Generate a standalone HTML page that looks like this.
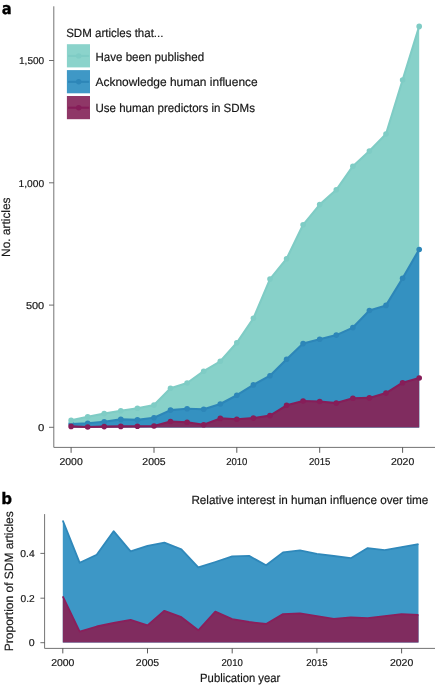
<!DOCTYPE html>
<html lang="en"><head><meta charset="utf-8"><title>SDM articles</title>
<style>
html,body{margin:0;padding:0;background:#fff;}
svg{display:block;}
text{font-family:"Liberation Sans",sans-serif;fill:#161616;stroke:#161616;stroke-width:0.18px;text-rendering:geometricPrecision;}
.tk{font-size:10px;}
.lg{font-size:12px;}
.pl{font-family:"DejaVu Sans","Liberation Sans",sans-serif;font-size:16.5px;font-weight:bold;fill:#000;stroke:#000;stroke-width:0.3px;}
</style></head><body>
<svg width="435" height="685" viewBox="0 0 435 685">
<rect width="435" height="685" fill="#fff"/>

<polygon points="71.1,427.6 71.1,420.4 87.7,416.8 104.2,413.6 120.8,410.8 137.4,408.2 154.0,405.1 170.5,388.3 187.1,383.0 203.7,371.2 220.3,361.3 236.8,342.8 253.4,318.3 270.0,279.1 286.6,258.7 303.1,224.8 319.7,204.6 336.3,189.8 352.9,166.2 369.4,151.1 386.0,134.0 402.6,80.0 419.2,26.4 419.2,427.6" fill="#87d1c9"/>
<polyline points="71.1,420.4 87.7,416.8 104.2,413.6 120.8,410.8 137.4,408.2 154.0,405.1 170.5,388.3 187.1,383.0 203.7,371.2 220.3,361.3 236.8,342.8 253.4,318.3 270.0,279.1 286.6,258.7 303.1,224.8 319.7,204.6 336.3,189.8 352.9,166.2 369.4,151.1 386.0,134.0 402.6,80.0 419.2,26.4" fill="none" stroke="#7fccc5" stroke-width="2.1" stroke-linejoin="round" stroke-linecap="butt"/>
<polygon points="71.1,427.6 71.1,424.1 87.7,423.3 104.2,421.8 120.8,419.4 137.4,419.9 154.0,417.8 170.5,410.1 187.1,408.8 203.7,409.3 220.3,404.0 236.8,395.2 253.4,384.9 270.0,375.7 286.6,359.3 303.1,343.6 319.7,339.3 336.3,335.1 352.9,327.6 369.4,310.5 386.0,305.4 402.6,278.2 419.2,249.5 419.2,427.6" fill="#3491c1"/>
<polyline points="71.1,424.1 87.7,423.3 104.2,421.8 120.8,419.4 137.4,419.9 154.0,417.8 170.5,410.1 187.1,408.8 203.7,409.3 220.3,404.0 236.8,395.2 253.4,384.9 270.0,375.7 286.6,359.3 303.1,343.6 319.7,339.3 336.3,335.1 352.9,327.6 369.4,310.5 386.0,305.4 402.6,278.2 419.2,249.5" fill="none" stroke="#2d86b8" stroke-width="2.1" stroke-linejoin="round" stroke-linecap="butt"/>
<polygon points="71.1,427.6 71.1,426.4 87.7,427.0 104.2,426.6 120.8,426.4 137.4,426.2 154.0,426.0 170.5,421.5 187.1,422.2 203.7,424.8 220.3,418.4 236.8,419.2 253.4,418.1 270.0,415.6 286.6,405.3 303.1,401.0 319.7,401.5 336.3,403.1 352.9,398.3 369.4,397.9 386.0,393.1 402.6,382.7 419.2,378.0 419.2,427.6" fill="#802c5f"/>
<polyline points="71.1,426.4 87.7,427.0 104.2,426.6 120.8,426.4 137.4,426.2 154.0,426.0 170.5,421.5 187.1,422.2 203.7,424.8 220.3,418.4 236.8,419.2 253.4,418.1 270.0,415.6 286.6,405.3 303.1,401.0 319.7,401.5 336.3,403.1 352.9,398.3 369.4,397.9 386.0,393.1 402.6,382.7 419.2,378.0" fill="none" stroke="#861d59" stroke-width="2.1" stroke-linejoin="round" stroke-linecap="butt"/>
<circle cx="71.1" cy="424.1" r="2.8" fill="#2d86b8"/><circle cx="87.7" cy="423.3" r="2.8" fill="#2d86b8"/><circle cx="104.2" cy="421.8" r="2.8" fill="#2d86b8"/><circle cx="120.8" cy="419.4" r="2.8" fill="#2d86b8"/><circle cx="137.4" cy="419.9" r="2.8" fill="#2d86b8"/><circle cx="154.0" cy="417.8" r="2.8" fill="#2d86b8"/><circle cx="170.5" cy="410.1" r="2.8" fill="#2d86b8"/><circle cx="187.1" cy="408.8" r="2.8" fill="#2d86b8"/><circle cx="203.7" cy="409.3" r="2.8" fill="#2d86b8"/><circle cx="220.3" cy="404.0" r="2.8" fill="#2d86b8"/><circle cx="236.8" cy="395.2" r="2.8" fill="#2d86b8"/><circle cx="253.4" cy="384.9" r="2.8" fill="#2d86b8"/><circle cx="270.0" cy="375.7" r="2.8" fill="#2d86b8"/><circle cx="286.6" cy="359.3" r="2.8" fill="#2d86b8"/><circle cx="303.1" cy="343.6" r="2.8" fill="#2d86b8"/><circle cx="319.7" cy="339.3" r="2.8" fill="#2d86b8"/><circle cx="336.3" cy="335.1" r="2.8" fill="#2d86b8"/><circle cx="352.9" cy="327.6" r="2.8" fill="#2d86b8"/><circle cx="369.4" cy="310.5" r="2.8" fill="#2d86b8"/><circle cx="386.0" cy="305.4" r="2.8" fill="#2d86b8"/><circle cx="402.6" cy="278.2" r="2.8" fill="#2d86b8"/><circle cx="419.2" cy="249.5" r="2.8" fill="#2d86b8"/>
<circle cx="71.1" cy="420.4" r="2.8" fill="#7fccc5"/><circle cx="87.7" cy="416.8" r="2.8" fill="#7fccc5"/><circle cx="104.2" cy="413.6" r="2.8" fill="#7fccc5"/><circle cx="120.8" cy="410.8" r="2.8" fill="#7fccc5"/><circle cx="137.4" cy="408.2" r="2.8" fill="#7fccc5"/><circle cx="154.0" cy="405.1" r="2.8" fill="#7fccc5"/><circle cx="170.5" cy="388.3" r="2.8" fill="#7fccc5"/><circle cx="187.1" cy="383.0" r="2.8" fill="#7fccc5"/><circle cx="203.7" cy="371.2" r="2.8" fill="#7fccc5"/><circle cx="220.3" cy="361.3" r="2.8" fill="#7fccc5"/><circle cx="236.8" cy="342.8" r="2.8" fill="#7fccc5"/><circle cx="253.4" cy="318.3" r="2.8" fill="#7fccc5"/><circle cx="270.0" cy="279.1" r="2.8" fill="#7fccc5"/><circle cx="286.6" cy="258.7" r="2.8" fill="#7fccc5"/><circle cx="303.1" cy="224.8" r="2.8" fill="#7fccc5"/><circle cx="319.7" cy="204.6" r="2.8" fill="#7fccc5"/><circle cx="336.3" cy="189.8" r="2.8" fill="#7fccc5"/><circle cx="352.9" cy="166.2" r="2.8" fill="#7fccc5"/><circle cx="369.4" cy="151.1" r="2.8" fill="#7fccc5"/><circle cx="386.0" cy="134.0" r="2.8" fill="#7fccc5"/><circle cx="402.6" cy="80.0" r="2.8" fill="#7fccc5"/><circle cx="419.2" cy="26.4" r="2.8" fill="#7fccc5"/>
<circle cx="71.1" cy="426.4" r="2.8" fill="#861d59"/><circle cx="87.7" cy="427.0" r="2.8" fill="#861d59"/><circle cx="104.2" cy="426.6" r="2.8" fill="#861d59"/><circle cx="120.8" cy="426.4" r="2.8" fill="#861d59"/><circle cx="137.4" cy="426.2" r="2.8" fill="#861d59"/><circle cx="154.0" cy="426.0" r="2.8" fill="#861d59"/><circle cx="170.5" cy="421.5" r="2.8" fill="#861d59"/><circle cx="187.1" cy="422.2" r="2.8" fill="#861d59"/><circle cx="203.7" cy="424.8" r="2.8" fill="#861d59"/><circle cx="220.3" cy="418.4" r="2.8" fill="#861d59"/><circle cx="236.8" cy="419.2" r="2.8" fill="#861d59"/><circle cx="253.4" cy="418.1" r="2.8" fill="#861d59"/><circle cx="270.0" cy="415.6" r="2.8" fill="#861d59"/><circle cx="286.6" cy="405.3" r="2.8" fill="#861d59"/><circle cx="303.1" cy="401.0" r="2.8" fill="#861d59"/><circle cx="319.7" cy="401.5" r="2.8" fill="#861d59"/><circle cx="336.3" cy="403.1" r="2.8" fill="#861d59"/><circle cx="352.9" cy="398.3" r="2.8" fill="#861d59"/><circle cx="369.4" cy="397.9" r="2.8" fill="#861d59"/><circle cx="386.0" cy="393.1" r="2.8" fill="#861d59"/><circle cx="402.6" cy="382.7" r="2.8" fill="#861d59"/><circle cx="419.2" cy="378.0" r="2.8" fill="#861d59"/>
<path d="M53.8 6.3V447.4H435" fill="none" stroke="#747474" stroke-width="1"/>
<path d="M49.0 427.3H53.7" stroke="#484848" stroke-width="0.8"/>
<text class="tk" x="44.2" y="431.0" text-anchor="end" textLength="6.3" lengthAdjust="spacingAndGlyphs">0</text>
<path d="M49.0 305.1H53.7" stroke="#484848" stroke-width="0.8"/>
<text class="tk" x="44.2" y="308.8" text-anchor="end" textLength="18.3" lengthAdjust="spacingAndGlyphs">500</text>
<path d="M49.0 182.8H53.7" stroke="#484848" stroke-width="0.8"/>
<text class="tk" x="44.2" y="186.5" text-anchor="end" textLength="25.6" lengthAdjust="spacingAndGlyphs">1,000</text>
<path d="M49.0 60.5H53.7" stroke="#484848" stroke-width="0.8"/>
<text class="tk" x="44.2" y="64.2" text-anchor="end" textLength="25.2" lengthAdjust="spacingAndGlyphs">1,500</text>
<path d="M71.1 447.4V452.8" stroke="#484848" stroke-width="0.9"/>
<text class="tk" x="71.1" y="464.8" text-anchor="middle" textLength="23.3" lengthAdjust="spacingAndGlyphs">2000</text>
<path d="M154.0 447.4V452.8" stroke="#484848" stroke-width="0.9"/>
<text class="tk" x="154.0" y="464.8" text-anchor="middle" textLength="23.3" lengthAdjust="spacingAndGlyphs">2005</text>
<path d="M236.8 447.4V452.8" stroke="#484848" stroke-width="0.9"/>
<text class="tk" x="236.8" y="464.8" text-anchor="middle" textLength="21.3" lengthAdjust="spacingAndGlyphs">2010</text>
<path d="M319.7 447.4V452.8" stroke="#484848" stroke-width="0.9"/>
<text class="tk" x="319.7" y="464.8" text-anchor="middle" textLength="21.3" lengthAdjust="spacingAndGlyphs">2015</text>
<path d="M402.6 447.4V452.8" stroke="#484848" stroke-width="0.9"/>
<text class="tk" x="402.6" y="464.8" text-anchor="middle" textLength="23.3" lengthAdjust="spacingAndGlyphs">2020</text>
<text class="lg" transform="translate(9.7 227.2) rotate(-90)" text-anchor="middle" textLength="59.5" lengthAdjust="spacingAndGlyphs">No. articles</text>
<text class="pl" x="1.7" y="13.6" style="font-size:16.2px" textLength="10" lengthAdjust="spacingAndGlyphs">a</text>
<text class="lg" x="66.2" y="37.2" textLength="97.3" lengthAdjust="spacingAndGlyphs">SDM articles that...</text>
<rect x="66.9" y="44.2" width="23.1" height="23.2" fill="#8bd3cb"/>
<path d="M68.0 55.9H89.2" stroke="#7fccc5" stroke-width="2.1"/><circle cx="78.7" cy="55.9" r="2.7" fill="#7fccc5"/>
<text class="lg" x="95.5" y="60.6" textLength="108.6" lengthAdjust="spacingAndGlyphs">Have been published</text>
<rect x="66.9" y="70.1" width="23.1" height="23.2" fill="#3f98c6"/>
<path d="M68.0 81.8H89.2" stroke="#2d86b8" stroke-width="2.1"/><circle cx="78.7" cy="81.8" r="2.7" fill="#2d86b8"/>
<text class="lg" x="95.5" y="86.4" textLength="162.2" lengthAdjust="spacingAndGlyphs">Acknowledge human influence</text>
<rect x="66.9" y="96.0" width="23.1" height="23.2" fill="#8f3767"/>
<path d="M68.0 107.7H89.2" stroke="#861d59" stroke-width="2.1"/><circle cx="78.7" cy="107.7" r="2.7" fill="#861d59"/>
<text class="lg" x="95.5" y="112.2" textLength="159.4" lengthAdjust="spacingAndGlyphs">Use human predictors in SDMs</text>
<polygon points="62.8,642.4 62.8,520.5 79.7,562.8 96.7,554.7 113.6,531.2 130.6,551.4 147.5,545.8 164.4,542.6 181.4,549.4 198.3,567.3 215.3,562.0 232.2,556.4 249.1,555.9 266.1,565.3 283.0,552.4 300.0,550.4 316.9,553.9 333.8,556.0 350.8,558.2 367.7,548.1 384.7,550.1 401.6,547.1 418.5,544.1 418.5,642.4" fill="#3d97c6"/>
<polyline points="62.8,520.5 79.7,562.8 96.7,554.7 113.6,531.2 130.6,551.4 147.5,545.8 164.4,542.6 181.4,549.4 198.3,567.3 215.3,562.0 232.2,556.4 249.1,555.9 266.1,565.3 283.0,552.4 300.0,550.4 316.9,553.9 333.8,556.0 350.8,558.2 367.7,548.1 384.7,550.1 401.6,547.1 418.5,544.1" fill="none" stroke="#2f88ba" stroke-width="1.8" stroke-linejoin="round" stroke-linecap="butt"/>
<polygon points="62.8,642.4 62.8,596.4 79.7,631.6 96.7,626.5 113.6,623.0 130.6,619.9 147.5,625.4 164.4,610.8 181.4,617.2 198.3,630.3 215.3,611.6 232.2,619.1 249.1,622.0 266.1,624.0 283.0,614.1 300.0,613.4 316.9,616.1 333.8,618.9 350.8,617.4 367.7,618.2 384.7,616.1 401.6,614.1 418.5,614.9 418.5,642.4" fill="#802c5f"/>
<polyline points="62.8,596.4 79.7,631.6 96.7,626.5 113.6,623.0 130.6,619.9 147.5,625.4 164.4,610.8 181.4,617.2 198.3,630.3 215.3,611.6 232.2,619.1 249.1,622.0 266.1,624.0 283.0,614.1 300.0,613.4 316.9,616.1 333.8,618.9 350.8,617.4 367.7,618.2 384.7,616.1 401.6,614.1 418.5,614.9" fill="none" stroke="#8a1f5b" stroke-width="1.8" stroke-linejoin="round" stroke-linecap="butt"/>
<path d="M44.6 514.1V648.4H435" fill="none" stroke="#747474" stroke-width="1"/>
<path d="M40.4 642.7H44.6" stroke="#484848" stroke-width="0.8"/>
<text class="tk" x="34.7" y="646.2" text-anchor="end" textLength="5.9" lengthAdjust="spacingAndGlyphs">0</text>
<path d="M40.4 598.2H44.6" stroke="#484848" stroke-width="0.8"/>
<text class="tk" x="34.7" y="601.7" text-anchor="end" textLength="14.2" lengthAdjust="spacingAndGlyphs">0.2</text>
<path d="M40.4 553.4H44.6" stroke="#484848" stroke-width="0.8"/>
<text class="tk" x="34.7" y="556.9" text-anchor="end" textLength="14.4" lengthAdjust="spacingAndGlyphs">0.4</text>
<path d="M62.8 648.4V653.4" stroke="#484848" stroke-width="0.9"/>
<text class="tk" x="62.8" y="666.2" text-anchor="middle" textLength="23.3" lengthAdjust="spacingAndGlyphs">2000</text>
<path d="M147.5 648.4V653.4" stroke="#484848" stroke-width="0.9"/>
<text class="tk" x="147.5" y="666.2" text-anchor="middle" textLength="23.3" lengthAdjust="spacingAndGlyphs">2005</text>
<path d="M232.2 648.4V653.4" stroke="#484848" stroke-width="0.9"/>
<text class="tk" x="232.2" y="666.2" text-anchor="middle" textLength="21.3" lengthAdjust="spacingAndGlyphs">2010</text>
<path d="M316.9 648.4V653.4" stroke="#484848" stroke-width="0.9"/>
<text class="tk" x="316.9" y="666.2" text-anchor="middle" textLength="21.3" lengthAdjust="spacingAndGlyphs">2015</text>
<path d="M401.6 648.4V653.4" stroke="#484848" stroke-width="0.9"/>
<text class="tk" x="401.6" y="666.2" text-anchor="middle" textLength="23.3" lengthAdjust="spacingAndGlyphs">2020</text>
<text class="lg" transform="translate(13.3 581.2) rotate(-90)" text-anchor="middle" textLength="140" lengthAdjust="spacingAndGlyphs">Proportion of SDM articles</text>
<text class="lg" x="200.1" y="681.6" textLength="80.2" lengthAdjust="spacingAndGlyphs">Publication year</text>
<text class="lg" x="191.4" y="504.4" textLength="237" lengthAdjust="spacingAndGlyphs">Relative interest in human influence over time</text>
<text class="pl" x="1.2" y="503.7" style="font-size:15.9px" textLength="10.8" lengthAdjust="spacingAndGlyphs">b</text>
</svg></body></html>
